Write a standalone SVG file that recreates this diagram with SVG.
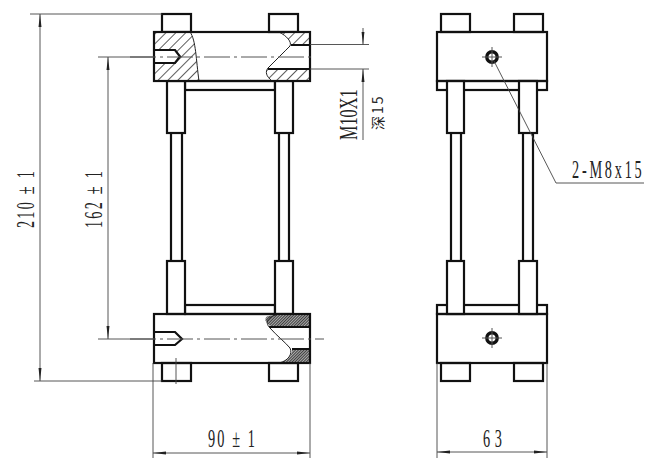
<svg xmlns="http://www.w3.org/2000/svg" width="650" height="469" viewBox="0 0 650 469">
<style>
.o{fill:none;stroke:#111;stroke-width:2.2}
.w{fill:#fff;stroke:#111;stroke-width:2.2}
.t{fill:none;stroke:#444;stroke-width:.9}
.d{fill:none;stroke:#555;stroke-width:1}
.c{fill:none;stroke:#555;stroke-width:1;stroke-dasharray:26 4 3 4}
text{font-family:"Liberation Serif",serif;fill:#222;font-size:26px}
</style>
<defs>
<pattern id="h1" width="7" height="7" patternUnits="userSpaceOnUse" patternTransform="rotate(45)"><rect width="7" height="7" fill="#fff"/><line x1="0" y1="0" x2="0" y2="7" stroke="#333" stroke-width="1.6"/></pattern>
<pattern id="h2" width="2" height="2" patternUnits="userSpaceOnUse" patternTransform="rotate(45)"><rect width="2" height="2" fill="#aaa"/><line x1="0" y1="0" x2="0" y2="2" stroke="#222" stroke-width="1.6"/></pattern>
<marker id="a" markerWidth="14" markerHeight="6" refX="13" refY="2.5" orient="auto-start-reverse" markerUnits="userSpaceOnUse"><path d="M0 1L13 2.5L0 4Z" fill="#222"/></marker>
</defs>
<g id="front-view">
<g id="front-rods"><path class="o" d="M171 133V261M182 133V261M279 133V261M289 133V261"/></g>
<g id="front-top">
<rect class="o" x="162" y="14" width="29" height="18"/><rect class="o" x="269" y="14" width="29" height="18"/>
<rect class="o" x="185" y="81" width="90" height="9"/>
<rect class="w" x="167" y="81" width="18" height="52"/><rect class="w" x="275" y="81" width="18" height="52"/>
<path d="M154 32H190C196 40 196 60 199 81H154Z" fill="url(#h1)"/>
<path d="M279 32H310V81H272C265 76 266 71 268 68C276 60 284 52 290 46C292 42 287 36 279 32Z" fill="url(#h1)"/>
<path d="M311 45H291C284 52 276 60 268 68H311Z" fill="#fff"/>
<path d="M154 50H175L180 56.500L175 63H154Z" fill="#fff"/>
<path class="o" d="M154 50H175L180 56.500L175 63H154"/>
<path class="o" d="M291 45H310M268 69H310"/>
<path d="M190 32C196 40 196 60 199 81M279 32C287 36 292 42 290 46C284 52 276 60 268 68C265 72 266 76 272 81" fill="none" stroke="#222" stroke-width="1"/>
<rect class="o" x="154" y="32" width="156" height="49"/>
</g>
<g id="front-bottom">
<rect class="o" x="162" y="363" width="29" height="18"/><rect class="o" x="269" y="363" width="29" height="18"/>
<rect class="o" x="185" y="305" width="90" height="9"/>
<rect class="w" x="167" y="261" width="18" height="53"/><rect class="w" x="275" y="261" width="18" height="53"/>
<path d="M280 314H310V327H272C264 322 264 318 268 316ZM292 349H310V363H279C288 361 293 354 292 349Z" fill="url(#h2)"/>
<path class="o" d="M154 332H175L182 339L175 345H154"/>
<path class="o" d="M269 327H310M292 349H310"/>
<path d="M280 314C268 316 264 322 270 328C277 336 285 342 290 348C293 354 288 361 279 363" fill="none" stroke="#222" stroke-width="1"/>
<rect class="o" x="154" y="314" width="156" height="49"/>
</g>
</g>
<g id="side-view">
<g id="side-rods"><path class="o" d="M451 133V261M461 133V261M523 133V261M533 133V261"/></g>
<g id="side-top">
<rect class="o" x="441" y="14" width="29" height="18"/><rect class="o" x="514" y="14" width="29" height="18"/>
<rect class="o" x="437" y="81" width="110" height="9"/>
<rect class="w" x="447" y="81" width="17" height="52"/><rect class="w" x="519" y="81" width="18" height="52"/>
<rect class="o" x="437" y="32" width="110" height="49"/>
<circle cx="492" cy="57" r="5.200" fill="none" stroke="#111" stroke-width="3.400"/>
<path class="d" d="M482 57H502M492 47V67"/>
</g>
<g id="side-bottom">
<rect class="o" x="441" y="363" width="29" height="18"/><rect class="o" x="514" y="363" width="29" height="18"/>
<rect class="o" x="437" y="305" width="110" height="9"/>
<rect class="w" x="447" y="261" width="17" height="53"/><rect class="w" x="519" y="261" width="18" height="53"/>
<rect class="o" x="437" y="314" width="110" height="49"/>
<circle cx="492" cy="338" r="5.200" fill="none" stroke="#111" stroke-width="3.400"/>
<path class="d" d="M482 338H502M492 328V348"/>
</g>
</g>
<g id="connectors">
<path class="c" d="M130 57H313"/>
<path class="c" d="M130 339H324"/>
<path class="t" d="M30 14H162M34 381H162M98 57H154M98 339H154"/>
<path class="t" d="M40 14V381" marker-start="url(#a)" marker-end="url(#a)"/>
<path class="t" d="M108 57V339" marker-start="url(#a)" marker-end="url(#a)"/>
<path class="t" d="M153 363V458M310 363V458M176 358V384"/>
<path class="t" d="M153 453H310" marker-start="url(#a)" marker-end="url(#a)"/>
<path class="t" d="M437 363V458M547 363V458"/>
<path class="t" d="M437 452H547" marker-start="url(#a)" marker-end="url(#a)"/>
<path class="t" d="M310 44.500H369M310 69H369"/>
<path class="t" d="M363 28V44.500" marker-end="url(#a)"/>
<path class="t" d="M363 140V69" marker-end="url(#a)"/>
<path class="t" d="M494 61L556 183H644"/>
</g>
<g id="labels">
<text transform="translate(34,228) rotate(-90) scale(.55,1)" letter-spacing="4">210 ± 1</text>
<text transform="translate(102,228) rotate(-90) scale(.55,1)" letter-spacing="4">162 ± 1</text>
<text transform="translate(208,447) scale(.55,1)" letter-spacing="3.800">90 ± 1</text>
<text transform="translate(483,447) scale(.55,1)" letter-spacing="8.500">63</text>
<text transform="translate(572,178) scale(.55,1)" letter-spacing="5">2-M8x15</text>
<text transform="translate(357,140) rotate(-90) scale(.65,1)" style="font-size:25px">M10X1</text>
<text transform="translate(383,130) rotate(-90)" style="font-family:'Noto Sans CJK SC','Liberation Serif',serif;font-size:14px" letter-spacing="2">深15</text>
</g>
</svg>
